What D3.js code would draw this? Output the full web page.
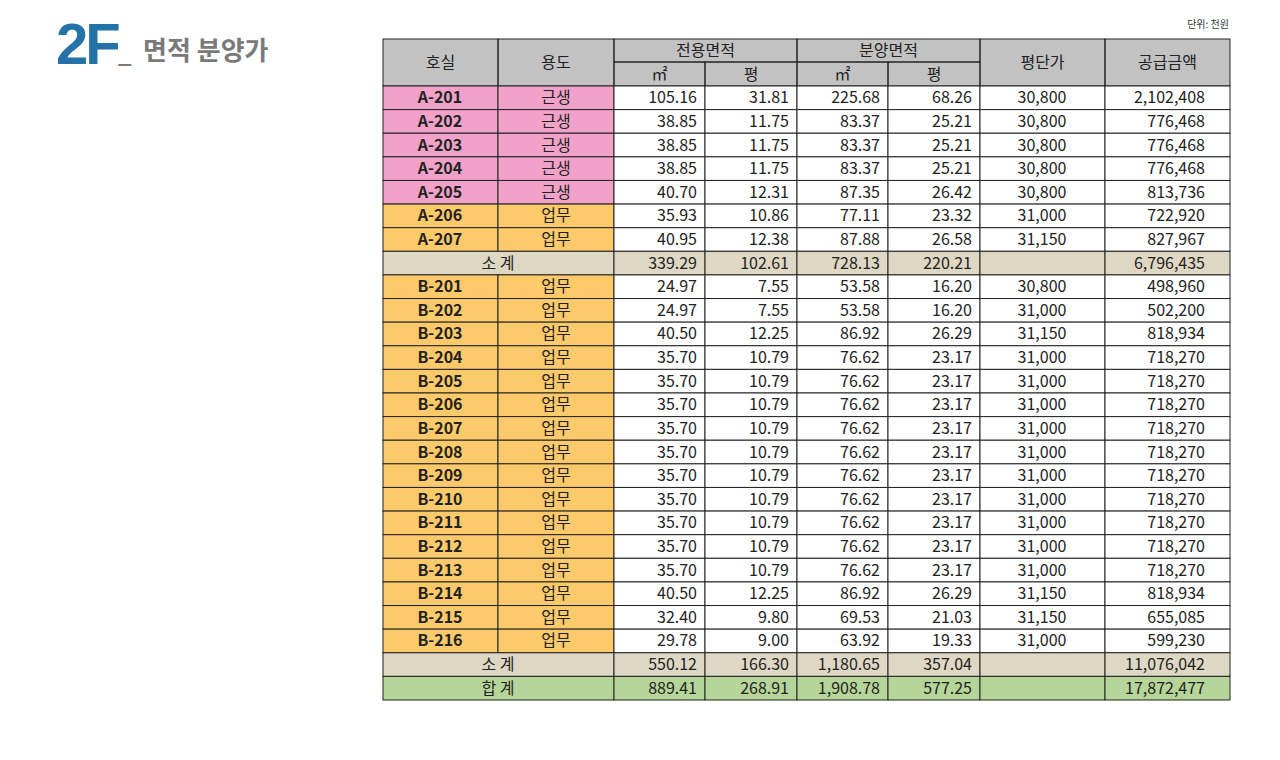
<!DOCTYPE html><html><head><meta charset="utf-8"><script src="https://cdn.jsdelivr.net/npm/d3@7"></script>
<style>body{margin:0;background:#fff}</style></head><body><svg id="c" width="1280" height="760"></svg>
<script>
const rooms=["A-201","A-202","A-203","A-204","A-205","A-206","A-207","소 계","B-201","B-202","B-203","B-204","B-205","B-206","B-207","B-208","B-209","B-210","B-211","B-212","B-213","B-214","B-215","B-216","소 계","합 계"];
const uses=["근생","근생","근생","근생","근생","업무","업무","","업무","업무","업무","업무","업무","업무","업무","업무","업무","업무","업무","업무","업무","업무","업무","업무","",""];
const exM2=["105.16","38.85","38.85","38.85","40.70","35.93","40.95","339.29","24.97","24.97","40.50","35.70","35.70","35.70","35.70","35.70","35.70","35.70","35.70","35.70","35.70","40.50","32.40","29.78","550.12","889.41"];
const exPy=["31.81","11.75","11.75","11.75","12.31","10.86","12.38","102.61","7.55","7.55","12.25","10.79","10.79","10.79","10.79","10.79","10.79","10.79","10.79","10.79","10.79","12.25","9.80","9.00","166.30","268.91"];
const saM2=["225.68","83.37","83.37","83.37","87.35","77.11","87.88","728.13","53.58","53.58","86.92","76.62","76.62","76.62","76.62","76.62","76.62","76.62","76.62","76.62","76.62","86.92","69.53","63.92","1,180.65","1,908.78"];
const saPy=["68.26","25.21","25.21","25.21","26.42","23.32","26.58","220.21","16.20","16.20","26.29","23.17","23.17","23.17","23.17","23.17","23.17","23.17","23.17","23.17","23.17","26.29","21.03","19.33","357.04","577.25"];
const unitPrice=["30,800","30,800","30,800","30,800","30,800","31,000","31,150","","30,800","31,000","31,150","31,000","31,000","31,000","31,000","31,000","31,000","31,000","31,000","31,000","31,000","31,150","31,150","31,000","",""];
const supply=["2,102,408","776,468","776,468","776,468","813,736","722,920","827,967","6,796,435","498,960","502,200","818,934","718,270","718,270","718,270","718,270","718,270","718,270","718,270","718,270","718,270","718,270","818,934","655,085","599,230","11,076,042","17,872,477"];
const colEdges=[383,498,614,705,797,888,980,1105,1230];
const svg=d3.select("#c");
const F="'Noto Sans CJK KR','Noto Sans',sans-serif";
const y=d3.scaleBand().domain(d3.range(rooms.length)).range([86,700]).paddingInner(0);
const kind=i=>rooms[i]==="소 계"?"sub":rooms[i]==="합 계"?"tot":rooms[i].startsWith("A")&&uses[i]==="근생"?"pink":"orange";
const fill={pink:"#f2a2c9",orange:"#fdca6b",sub:"#ddd7c3",tot:"#b6d598"};
// title
svg.append("text").attr("x",56).attr("y",64).attr("font-family","'Liberation Sans',Arial,sans-serif").attr("font-weight","bold").attr("font-size",58).attr("fill","#2472a8").attr("letter-spacing",-3).text("2F");
svg.append("text").attr("x",118).attr("y",62).attr("font-family",F).attr("font-weight","bold").attr("font-size",24).attr("fill","#7a7a7a").text("_");
svg.append("text").attr("x",143).attr("y",60).attr("font-family",F).attr("font-weight","bold").attr("font-size",26).attr("fill","#7a7a7a").text("면적 분양가");
svg.append("text").attr("x",1229).attr("y",28).attr("text-anchor","end").attr("font-family",F).attr("font-size",10).attr("fill","#333").text("단위: 천원");
// header
const hdr=svg.append("g");
hdr.append("rect").attr("x",383).attr("y",39).attr("width",847).attr("height",47).attr("fill","#c2c2c2");
const hcell=(x0,x1,y0,y1,t)=>{hdr.append("rect").attr("x",x0).attr("y",y0).attr("width",x1-x0).attr("height",y1-y0).attr("fill","none").attr("stroke","#222");
hdr.append("text").attr("x",(x0+x1)/2).attr("y",(y0+y1)/2+5.5).attr("text-anchor","middle").attr("font-family",F).attr("font-size",16).attr("fill","#222").text(t);};
hcell(383,498,39,86,"호실");hcell(498,614,39,86,"용도");
hcell(614,797,39,62,"전용면적");hcell(797,980,39,62,"분양면적");
hcell(614,705,62,86,"㎡");hcell(705,797,62,86,"평");hcell(797,888,62,86,"㎡");hcell(888,980,62,86,"평");
hcell(980,1105,39,86,"평단가");hcell(1105,1230,39,86,"공급금액");
// body
const rows=svg.selectAll("g.r").data(d3.range(rooms.length)).join("g").attr("class","r").attr("transform",i=>`translate(0,${y(i)})`);
const h=y.bandwidth();
rows.each(function(i){
 const g=d3.select(this),k=kind(i);
 const bg=(x0,x1,c)=>g.append("rect").attr("x",x0).attr("y",0).attr("width",x1-x0).attr("height",h).attr("fill",c).attr("stroke","#222");
 const txt=(x,a,t,b)=>g.append("text").attr("x",x).attr("y",h/2+5.5).attr("text-anchor",a).attr("font-family",F).attr("font-size",16).attr("font-weight",b?"bold":"normal").attr("fill","#222").text(t);
 if(k==="sub"||k==="tot"){bg(383,614,fill[k]);txt(498,"middle",rooms[i].replace(" ","  "));}
 else{bg(383,498,fill[k]);bg(498,614,fill[k]);txt(440,"middle",rooms[i],true);txt(556,"middle",uses[i]);}
 const other=(k==="sub"||k==="tot")?fill[k]:"#fff";
 for(let c=2;c<8;c++)bg(colEdges[c],colEdges[c+1],other);
 [exM2,exPy,saM2,saPy].forEach((arr,j)=>txt(colEdges[j+3]-8,"end",arr[i]));
 txt(1042,"middle",unitPrice[i]);txt(1205,"end",supply[i]);
});
</script></body></html>
